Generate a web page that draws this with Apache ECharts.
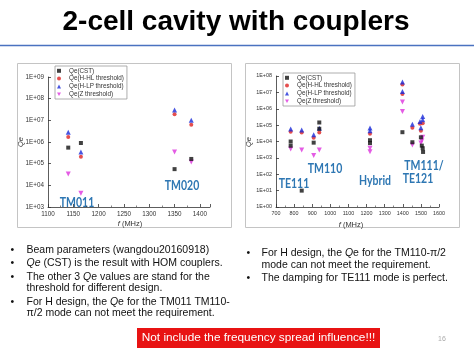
<!DOCTYPE html>
<html><head><meta charset="utf-8">
<script src="https://cdn.jsdelivr.net/npm/echarts@6/dist/echarts.min.js"></script>
<style>html,body{margin:0;padding:0;background:#fff}#c{width:474px;height:355px}</style>
</head><body><div id="c"></div>
<script>
// ---- data ----
const seriesNames = ['Qe(CST)', 'Qe(H-HL threshold)', 'Qe(H-LP threshold)', 'Qe(Z threshold)'];
// left chart: [frequency MHz, Qe]
const leftCST = [[1140, 5.5e5], [1165, 9e5], [1350, 5.6e4], [1383, 1.65e5]];
const leftHL  = [[1140, 1.7e6], [1165, 2.1e5], [1350, 1.9e7], [1383, 6.3e6]];
const leftLP  = [[1140, 2.8e6], [1165, 3.5e5], [1350, 3.0e7], [1383, 1.0e7]];
const leftZ   = [[1140, 3.3e4], [1165, 4.3e3], [1350, 3.5e5], [1383, 1.2e5]];
// right chart
const rightCST = [[781, 1e4], [781, 5.5e3], [842, 10], [908, 8.5e3], [939, 1.45e5], [939, 6e4],
  [1219, 1.2e4], [1219, 8e3], [1398, 3.7e4], [1453, 9e3], [1500, 1.8e4], [1505, 5.6e3], [1510, 3.9e3], [1512, 2.3e3]];
const rightHL = [[781, 3.9e4], [842, 3.5e4], [908, 1.7e4], [939, 3.5e4], [1219, 3e4],
  [1398, 3e7], [1398, 8e6], [1453, 7e4], [1495, 1.2e5], [1500, 4.5e4], [1510, 1.3e5]];
const rightLP = [[781, 5.9e4], [842, 5.1e4], [908, 2.6e4], [939, 6.5e4], [1219, 6.6e4], [1219, 4.5e4],
  [1398, 4.3e7], [1398, 1.15e7], [1453, 1.15e5], [1495, 1.65e5], [1500, 7e4], [1510, 3.4e5], [1510, 2.1e5]];
const rightZ = [[781, 3.5e3], [842, 3e3], [908, 1.4e3], [939, 3e3], [1219, 3.9e3], [1219, 2.4e3],
  [1398, 2.6e6], [1398, 6.7e5], [1453, 6.2e3], [1500, 8e3], [1505, 1.1e4], [1510, 1.8e4]];
const leftModes = ['TM011', 'TM020'];
const rightModes = ['TE111', 'TM110', 'Hybrid', 'TM111/', 'TE121'];
const title = '2-cell cavity with couplers';
const bulletsLeft = [
  ['Beam parameters (wangdou20160918)'],
  ['{i|Qe} (CST) is the result with HOM couplers.'],
  ['The other 3 {i|Q}e values are stand for the', 'threshold for different design.'],
  ['For H design, the {i|Q}e for the TM011 TM110-', 'π/2 mode can not meet the requirement.']
];
const bulletsRight = [
  ['For H design, the {i|Q}e for the TM110-π/2', 'mode can not meet the requirement.'],
  ['The damping for TE111 mode is perfect.']
];
const note = 'Not include the frequency spread influence!!!';
const pageNo = '16';

// ---- styles ----
const colors = ['#111111', '#dd2222', '#1a2ad8', '#dd33dd'];
const symbols = ['rect', 'circle', 'triangle', 'triangle'];
const legendIcons = ['rect', 'circle', 'triangle', 'path://M0,0 L10,0 L5,9 Z'];
const rotates = [0, 0, 0, 180];
const sizes = [4, 4, 5, 5];
const FONT = '"Liberation Sans", Arial, sans-serif';
const lineSt = { lineStyle: { color: '#333', width: 0.8 } };
const expFmt = v => { const e = Math.round(Math.log10(v)); return '1E+' + String(e).padStart(2, '0'); };

function mkSeries(dataSets, idx) {
  return dataSets.map((d, i) => ({
    type: 'scatter', name: seriesNames[i], xAxisIndex: idx, yAxisIndex: idx,
    data: d, symbol: symbols[i], symbolRotate: rotates[i], symbolSize: sizes[i],
    itemStyle: { color: colors[i] }, z: 3 + (i === 0 ? 1 : 0)
  }));
}

function xAxis(idx, min, max, interval, labelOk, fs) {
  return {
    type: 'value', gridIndex: idx, min, max, interval,
    axisLine: lineSt, splitLine: { show: false },
    axisTick: { inside: true, length: 3, lineStyle: { color: '#333', width: 0.8 } },
    minorTick: { show: true, splitNumber: 2, length: 1.5, lineStyle: { color: '#333', width: 0.6 } },
    axisLabel: { margin: 4, formatter: v => labelOk(v) ? String(v) : '', color: '#333', fontSize: fs, fontFamily: FONT }
  };
}
function yAxis(idx, min, max, fs) {
  return {
    type: 'log', logBase: 10, gridIndex: idx, min, max, splitNumber: 10,
    axisLine: Object.assign({ show: true }, lineSt), splitLine: { show: false },
    axisTick: { show: true, inside: true, length: 3, lineStyle: { color: '#333', width: 0.8 } },
    axisLabel: { margin: 4, formatter: expFmt, color: '#333', fontSize: fs, fontFamily: FONT }
  };
}
function legend(left, top) {
  return {
    left, top, orient: 'vertical',
    data: seriesNames.map((n, i) => ({ name: n, icon: legendIcons[i], symbolRotate: 0 })),
    itemWidth: 4, itemHeight: 4, itemGap: 1.2, padding: [1.5, 3, 1.5, 2],
    borderColor: '#999', borderWidth: 0.8,
    textStyle: { fontSize: 6.3, lineHeight: 6.6, color: '#333', fontFamily: FONT, padding: [0, 0, 0, 3] }
  };
}

const modeStyle = (t, x, y) => ({ type: 'group', x, y, scaleX: 0.84, children: [{ type: 'text', style: { text: t, x: 0, y: 0, fill: '#2e77b3',
  font: 'bold 12.5px Lato, "Open Sans", sans-serif', textAlign: 'center', textVerticalAlign: 'middle' } }] });

const graphics = [];
// title and rule
graphics.push({ type: 'text', style: { text: title, x: 236, y: 22, fill: '#000',
  font: 'bold 28px ' + FONT, textAlign: 'center', textVerticalAlign: 'middle' } });
graphics.push({ type: 'line', shape: { x1: 0, y1: 45.5, x2: 474, y2: 45.5 }, style: { stroke: '#4a72c0', lineWidth: 1.5 } });
// frames
graphics.push({ type: 'rect', shape: { x: 17.5, y: 63.5, width: 214, height: 164 }, style: { fill: 'none', stroke: '#c4c4c4', lineWidth: 1 }, z: -1 });
graphics.push({ type: 'rect', shape: { x: 245.5, y: 63.5, width: 214, height: 164 }, style: { fill: 'none', stroke: '#c4c4c4', lineWidth: 1 }, z: -1 });
// axis names
const qeLabel = (x, y) => ({ type: 'group', x, y, rotation: Math.PI / 2, children: [{ type: 'text',
  style: { text: 'Qe', x: 0, y: 0, fill: '#333', font: 'italic 7.5px ' + FONT, textAlign: 'center', textVerticalAlign: 'middle' } }] });
graphics.push(qeLabel(21, 142), qeLabel(249, 142));
const fLabel = (x, y) => ({ type: 'text', style: { text: '{i|f} (MHz)', x, y, fill: '#333',
  font: '7.5px ' + FONT, textAlign: 'center', textVerticalAlign: 'middle', rich: { i: { fontStyle: 'italic', fontSize: 7.5, fontFamily: FONT, fill: '#333' } } } });
graphics.push(fLabel(130, 224), fLabel(351, 224.5));
// mode labels
graphics.push(modeStyle(leftModes[0], 77, 203), modeStyle(leftModes[1], 182, 186));
graphics.push(modeStyle(rightModes[0], 294, 184), modeStyle(rightModes[1], 325, 169),
  modeStyle(rightModes[2], 375, 181), modeStyle(rightModes[3], 424, 166), modeStyle(rightModes[4], 418, 179));
// bullets
const rich = { i: { fontStyle: 'italic', fontSize: 10.5, fontFamily: FONT, fill: '#111' } };
function addBullets(list, bx, tx, y0, lineH, gap) {
  let y = y0;
  list.forEach(lines => {
    graphics.push({ type: 'text', style: { text: '•', x: bx, y, fill: '#111', font: '10.5px ' + FONT, textVerticalAlign: 'middle' } });
    lines.forEach(l => {
      graphics.push({ type: 'text', style: { text: l, x: tx, y, fill: '#111', font: '10.5px ' + FONT, textVerticalAlign: 'middle', rich } });
      y += lineH;
    });
    y += gap;
  });
}
addBullets(bulletsLeft, 10.5, 26.5, 250, 11.7, 1.7);
addBullets(bulletsRight, 246.5, 261.5, 253.3, 11.7, 1.7);
// red note
graphics.push({ type: 'rect', shape: { x: 137, y: 328, width: 243, height: 20 }, style: { fill: '#e81313' } });
graphics.push({ type: 'text', style: { text: note, x: 258.5, y: 338, fill: '#fff', font: '11.8px ' + FONT, textAlign: 'center', textVerticalAlign: 'middle' } });
graphics.push({ type: 'text', style: { text: pageNo, x: 442, y: 339, fill: '#aaa', font: '7px ' + FONT, textAlign: 'center', textVerticalAlign: 'middle' } });

const chart = echarts.init(document.getElementById('c'), null, { renderer: 'canvas' });
chart.setOption({
  animation: false,
  backgroundColor: '#fff',
  grid: [
    { left: 48, top: 77, width: 162, height: 130 },
    { left: 276, top: 76, width: 163, height: 131 }
  ],
  xAxis: [
    xAxis(0, 1100, 1420, 50, v => v % 50 === 0 && v <= 1400, 6.3),
    xAxis(1, 700, 1600, 100, v => true, 5.4)
  ],
  yAxis: [yAxis(0, 1e3, 1e9, 6.3), yAxis(1, 1, 1e8, 5.4)],
  legend: [legend(55, 66), legend(283, 73)],
  series: [...mkSeries([leftCST, leftHL, leftLP, leftZ], 0), ...mkSeries([rightCST, rightHL, rightLP, rightZ], 1)],
  graphic: graphics
});
</script></body></html>
